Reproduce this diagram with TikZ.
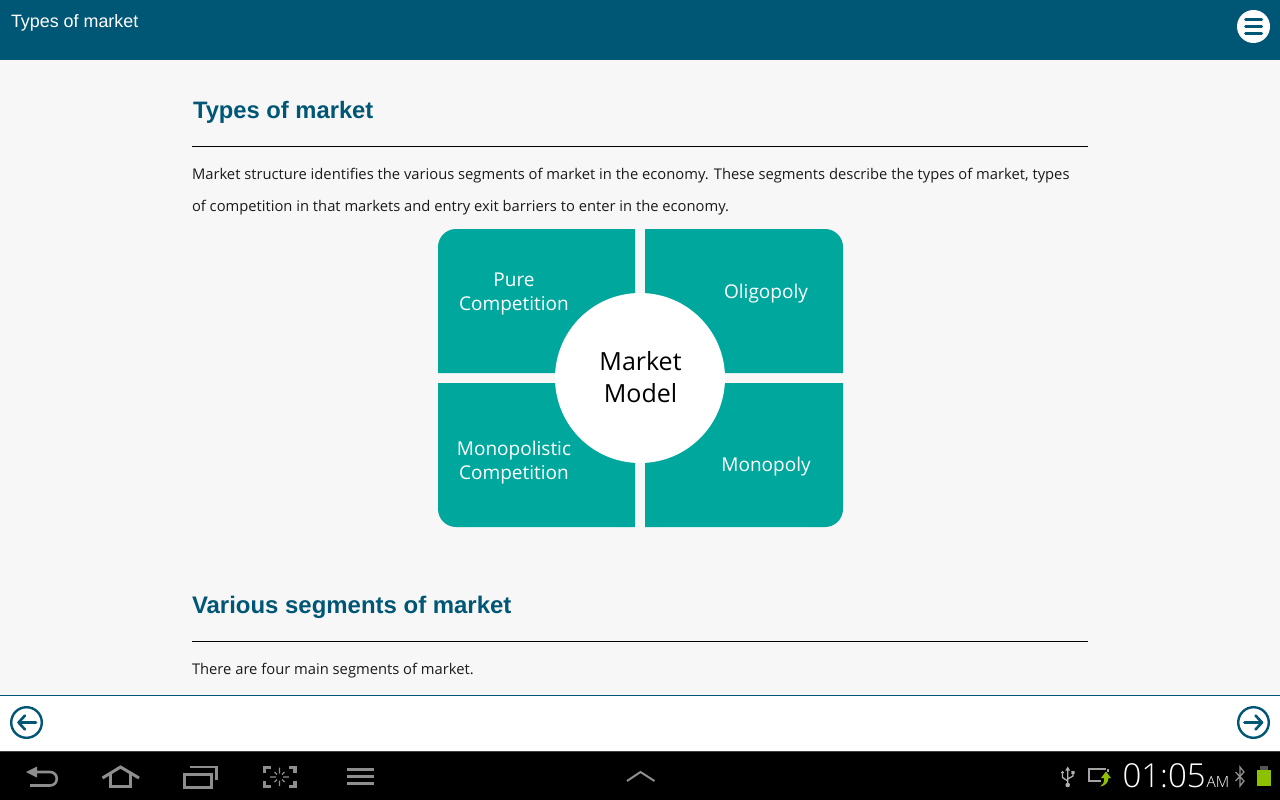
\documentclass[tikz,border=0pt]{standalone}
\usepackage{fontspec}
\setmainfont{Open Sans}
\newfontfamily\arialf{Liberation Sans}
\newfontfamily\lightf{Open Sans Light}
\definecolor{barblue}{HTML}{005675}
\definecolor{pagebg}{HTML}{F7F7F7}
\definecolor{teal}{HTML}{00A79D}
\definecolor{sysgray}{HTML}{8E8E8E}
\definecolor{battgreen}{HTML}{8CC000}
\definecolor{bodytxt}{HTML}{1A1A1A}
\tikzset{
  x=1pt,y=-1pt,
  txt/.style={anchor=base west,inner sep=0pt,outer sep=0pt},
  headingtxt/.style={txt,font=\arialf\bfseries\fontsize{23.85}{24}\selectfont,text=barblue},
  bodyline/.style={txt,font=\fontsize{14.75}{15}\selectfont,text=bodytxt},
  quad/.style={fill=teal,draw=none},
  quadtxt/.style={anchor=center,inner sep=0pt,align=center,text=white,font=\fontsize{19}{24}\selectfont},
  navring/.style={draw=barblue,line width=2.4pt,fill=none},
  navarrow/.style={draw=barblue,line width=2.6pt,line cap=round,line join=round},
  sysicon/.style={draw=sysgray,line width=2.6pt,fill=none},
}
\begin{document}
\begin{tikzpicture}
\useasboundingbox (0,0) rectangle (1280,800);
% backgrounds
\fill[pagebg] (0,0) rectangle (1280,696);
\fill[barblue] (0,0) rectangle (1280,60);
\fill[white] (0,696) rectangle (1280,752);
\draw[barblue,line width=1pt] (0,695.5) -- (1280,695.5);
\fill[black] (0,752) rectangle (1280,800);
\fill[black!75] (0,751) rectangle (1280,752);
% top bar
\node[txt,font=\arialf\fontsize{17.9}{18}\selectfont,text=white] (toptitle) at (11,28) {Types of market};
\fill[white] (1253.5,26.5) circle (16.5);
\foreach \y in {19.5,26.5,33.5}{\draw[barblue,line width=3pt,line cap=round] (1245.5,\y) -- (1261.5,\y);}
% content
\node[headingtxt,font=\arialf\bfseries\fontsize{23.75}{24}\selectfont] (h1) at (193,118) {Types of market};
\draw[black,line width=1pt] (192,146.5) -- (1088,146.5);
\node[bodyline] (p1) at (192,179) {Market structure identifies the various segments of market in the economy. These segments describe the types of market, types};
\node[bodyline] (p2) at (192,211) {of competition in that markets and entry exit barriers to enter in the economy.};
% diagram
\path[quad] (635,373) -- (438,373) -- (438,247) arc[start angle=180,end angle=90,x radius=18,y radius=-18] -- (635,229) -- cycle;
\path[quad] (645,373) -- (843,373) -- (843,247) arc[start angle=0,end angle=90,x radius=18,y radius=-18] -- (645,229) -- cycle;
\path[quad] (635,383) -- (438,383) -- (438,509) arc[start angle=180,end angle=270,x radius=18,y radius=-18] -- (635,527) -- cycle;
\path[quad] (645,383) -- (843,383) -- (843,509) arc[start angle=0,end angle=-90,x radius=18,y radius=-18] -- (645,527) -- cycle;
\node[circle,fill=white,minimum size=170pt,inner sep=0pt] (hub) at (640,378) {};
\node[quadtxt] (pure) at (514,293.5) {Pure\\Competition};
\node[quadtxt] (oligo) at (766,293.5) {Oligopoly};
\node[quadtxt] (monop) at (514,462.5) {Monopolistic\\Competition};
\node[quadtxt] (mono) at (766,466.5) {Monopoly};
\node[anchor=center,inner sep=0pt,align=center,text=black,font=\fontsize{25}{32}\selectfont] (hubtxt) at (640.5,377) {Market\\Model};
\node[headingtxt,font=\arialf\bfseries\fontsize{23.95}{24}\selectfont] (h2) at (192,613) {Various segments of market};
\draw[black,line width=1pt] (192,641.5) -- (1088,641.5);
\node[bodyline] (p3) at (192,674) {There are four main segments of market.};
% nav buttons
\draw[navring] (26.5,722.5) circle (15.3);
\draw[navarrow] (36,722.5) -- (18.5,722.5) (25,715.5) -- (18.5,722.5) -- (25,729.5);
\draw[navring] (1253.5,722.5) circle (15.3);
\draw[navarrow] (1244.5,722.5) -- (1262,722.5) (1255.5,715.5) -- (1262,722.5) -- (1255.5,729.5);
% system bar: back
\draw[sysicon] (30,785.5) -- (50,785.5) .. controls (59,785.5) and (59,772) .. (50,772) -- (36,772);
\fill[sysgray] (26,772) -- (37,766.5) -- (37,777.5) -- cycle;
% home
\draw[sysicon,line width=3pt] (102.5,778) -- (120.5,767) -- (139,778);
\draw[sysicon,line width=2.6pt] (110.5,774) -- (110.5,786.5) -- (130.5,786.5) -- (130.5,774);
% recent
\draw[sysicon,line width=3pt] (184.5,787) rectangle (211,774.5);
\draw[sysicon,line width=2.4pt] (190,767) -- (216.5,767) -- (216.5,780);
% screenshot
\draw[sysicon,line width=3.2pt] (264.5,773) -- (264.5,767.5) -- (271,767.5) (289,767.5) -- (295,767.5) -- (295,773)
  (295,781) -- (295,786.5) -- (289,786.5) (271,786.5) -- (264.5,786.5) -- (264.5,781);
\draw[sysgray,line width=1.2pt] (270,777) -- (276,777) (283,777) -- (289,777) (279.5,767.5) -- (279.5,773.5) (279.5,780.5) -- (279.5,786)
  (274.5,772) -- (277,774.5) (284.5,772) -- (282,774.5) (274.5,782) -- (277,779.5) (284.5,782) -- (282,779.5);
% menu
\foreach \y in {769.5,776.5,783.5}{\fill[sysgray] (347,\y-1.5) rectangle (374,\y+1.5);}
% chevron
\draw[sysgray,line width=2pt,line join=miter] (627,781) -- (640.5,772) -- (654.5,781);
% usb
\draw[sysgray!70!white,line width=1.3pt] (1067.7,769) -- (1067.7,785)
  (1062.5,774) -- (1062.5,777.5) -- (1067.7,781) (1073,773) -- (1073,776) -- (1067.7,779);
\fill[sysgray!70!white] (1067.7,785) circle (2.3) (1067.7,766.5) -- (1065.3,770.5) -- (1070.1,770.5) -- cycle
  (1062.5,772.5) circle (1.6) (1071.3,771) rectangle (1074.7,774);
% cast
\draw[sysgray!80!white,line width=2pt] (1106,769) -- (1089,769) -- (1089,781) -- (1101,781) (1107.5,769) -- (1107.5,772);
\fill[battgreen] (1100,786.5) .. controls (1103,785) and (1104.5,782) .. (1104,778) -- (1101,778) -- (1106,771.5) -- (1111,778) -- (1108.5,778) .. controls (1108.5,782) and (1105.5,786) .. (1100,786.5) -- cycle;
% clock
\node[txt,font=\lightf\fontsize{33}{33}\selectfont,text=white] (clock) at (1122.5,787) {01:05};
\node[txt,font=\lightf\fontsize{15.5}{16}\selectfont,text=white] (ampm) at (1206.5,787.5) {AM};
% bluetooth
\draw[sysgray,line width=1.3pt,line join=miter] (1235.5,772) -- (1244,781) -- (1240,786) -- (1240,767) -- (1244,772) -- (1235.5,781);
% battery
\fill[sysgray!60!black] (1260,766) rectangle (1268,770);
\fill[battgreen] (1257,770) rectangle (1271,786);
\end{tikzpicture}
\end{document}
